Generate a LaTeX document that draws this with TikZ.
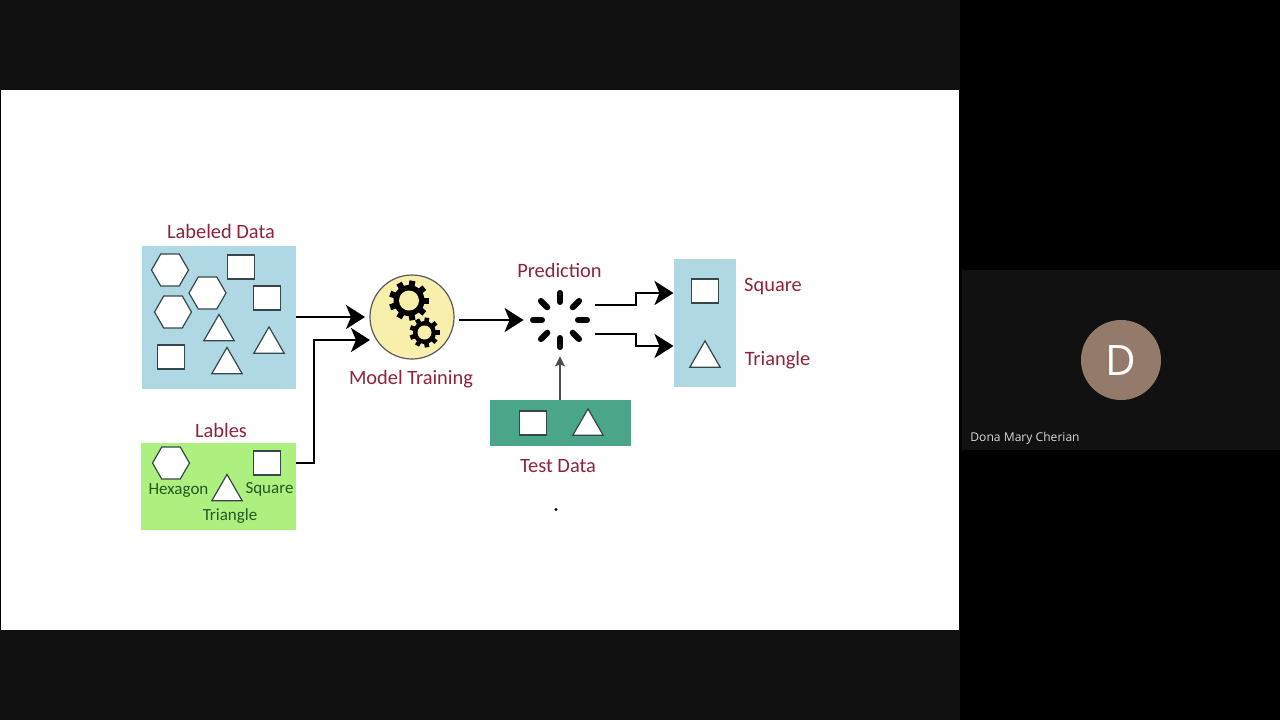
\documentclass[tikz,border=0pt]{standalone}
\usepackage{fontspec}
\setmainfont{Carlito}
\newfontfamily\tilefont{Open Sans}
\usetikzlibrary{arrows.meta,shapes.geometric}
\definecolor{bandgray}{HTML}{111111}
\definecolor{datablue}{HTML}{B0D7E4}
\definecolor{labelgreen}{HTML}{AEF07F}
\definecolor{testgreen}{HTML}{4AA58A}
\definecolor{gearyellow}{HTML}{F8EFAD}
\definecolor{titlered}{HTML}{8E2438}
\definecolor{namegreen}{HTML}{1F5A22}
\definecolor{shapeline}{HTML}{36474B}
\definecolor{avatarbrown}{HTML}{947A6B}
\begin{document}
\begin{tikzpicture}[x=0.5pt,y=-0.5pt,
		panel/.style={inner sep=0,outer sep=0},
		title/.style={text=titlered,font=\fontsize{10.2}{12}\selectfont,inner sep=0},
		shapename/.style={text=namegreen,font=\fontsize{8.5}{10}\selectfont,inner sep=0},
		hexa/.style={draw=shapeline,fill=white,line width=0.6pt,regular polygon,regular polygon sides=6,inner sep=0,minimum size=18.5pt},
		tria/.style={draw=shapeline,fill=white,line width=0.6pt,regular polygon,regular polygon sides=3,inner sep=0,minimum size=17.6pt},
		squa/.style={draw=shapeline,fill=white,line width=0.6pt,rectangle,inner sep=0,minimum width=13.5pt,minimum height=12pt},
		flow/.style={line width=1.2pt,line join=miter,-{Stealth[length=9.5pt,width=12pt,inset=2.5pt]}},
		thinflow/.style={line width=0.6pt,draw=black!70,-{Stealth[length=5pt,width=5pt,inset=1pt]}},
	]
	\useasboundingbox (0,0) rectangle (1280,720);
	% screen
	\fill[black] (0,0) rectangle (1280,720);
	\fill[bandgray] (0,0) rectangle (960,90);
	\fill[bandgray] (0,630) rectangle (960,720);
	\fill[bandgray] (962,270) rectangle (1280,450);
	\fill[white] (1,90) rectangle (959,630);
	% avatar tile
	\node[circle,fill=avatarbrown,minimum size=40pt,inner sep=0,text=white,font=\tilefont\fontsize{21}{24}\selectfont] (avatar) at (1121,360) {D};
	\node[anchor=west,inner sep=0,text=black!15,font=\tilefont\fontsize{6.05}{8}\selectfont] (tilename) at (970,438) {Dona Mary Cherian};
	% boxes
	\node[panel,fill=datablue,minimum width=77pt,minimum height=71.5pt] (databox) at (219,317.5) {};
	\node[panel,fill=labelgreen,minimum width=77.5pt,minimum height=43.5pt] (labelbox) at (218.5,486.5) {};
	\node[panel,fill=testgreen,minimum width=70.5pt,minimum height=23pt] (testbox) at (560.5,423) {};
	\node[panel,fill=datablue,minimum width=31pt,minimum height=64pt] (resultbox) at (705,323) {};
	% labeled data
	\node[hexa] (hexa1) at (170,270) {};
	\node[hexa] (hexa2) at (207.5,293) {};
	\node[hexa] (hexa3) at (173,312) {};
	\node[squa] (squa1) at (241,267) {};
	\node[squa] (squa2) at (267,298) {};
	\node[squa] (squa3) at (171,357) {};
	\node[tria] (tria1) at (219,332) {};
	\node[tria] (tria2) at (269,344.5) {};
	\node[tria] (tria3) at (227,365) {};
	% labels
	\node[hexa] (hexa4) at (171,463) {};
	\node[squa] (squa4) at (267,463) {};
	\node[tria] (tria4) at (227,492) {};
	\node[shapename] (hexaname) at (178.5,490) {Hexagon};
	\node[shapename] (squaname) at (269.5,489) {Square};
	\node[shapename] (trianame) at (230,516.5) {Triangle};
	% test data and result
	\node[squa] (squa5) at (533,423) {};
	\node[tria] (tria5) at (588,426.5) {};
	\node[squa] (squa6) at (705,291) {};
	\node[tria] (tria6) at (705,358.5) {};
	% titles
	\node[title] (datatitle) at (221,231) {Labeled Data};
	\node[title] (labeltitle) at (221,430) {Lables};
	\node[title] (traintitle) at (411,379) {Model Training};
	\node[title] (predtitle) at (559.5,270) {Prediction};
	\node[title] (testtitle) at (558,466.5) {Test Data};
	\node[title] (squaretitle) at (773,286.5) {Square};
	\node[title] (triangletitle) at (777.5,360.5) {Triangle};
	% model training
	\node[circle,draw=black!65,fill=gearyellow,line width=0.6pt,minimum size=42pt,inner sep=0] (train) at (412,317) {};
	\foreach \cx/\cy/\ro/\ri/\rh/\tw in {409/300.5/20/15.5/10/3,424.5/332.5/15/11.5/7/2.3} {
		\foreach \a in {0,40,...,320}
			\draw[line width=\tw pt] (\cx,\cy)++(\a:\ri-1)--++(\a:\ro-\ri+1);
		\fill[black] (\cx,\cy) circle (\ri);
		\fill[gearyellow] (\cx,\cy) circle (\rh);
	}
	% prediction
	\node[circle,inner sep=0,minimum size=36pt] (spin) at (560,320) {};
	\foreach \a in {0,45,...,315}
		\draw[line width=3pt,line cap=round] (560,320)++(\a:18)--++(\a:9);
	\coordinate (outa) at (595,305);
	\coordinate (outb) at (595,334);
	\coordinate (tipa) at (673.5,293);
	\coordinate (tipb) at (673.5,346);
	\node[circle,fill=black,minimum size=1.6pt,inner sep=0] (speck) at (556,509.5) {};
	% arrows
	\draw[flow] (databox.east|-train)--(365,317);
	\draw[flow] (labelbox.east|-hexa4)--(314,463)--(314,340)--(370,340);
	\draw[flow] (459,320)--(spin.west);
	\draw[flow] (outa)--(636,305)--(636,293)--(tipa);
	\draw[flow] (outb)--(636,334)--(636,346)--(tipb);
	\draw[thinflow] (testbox.north-|spin)--(spin.south);
\end{tikzpicture}
\end{document}
